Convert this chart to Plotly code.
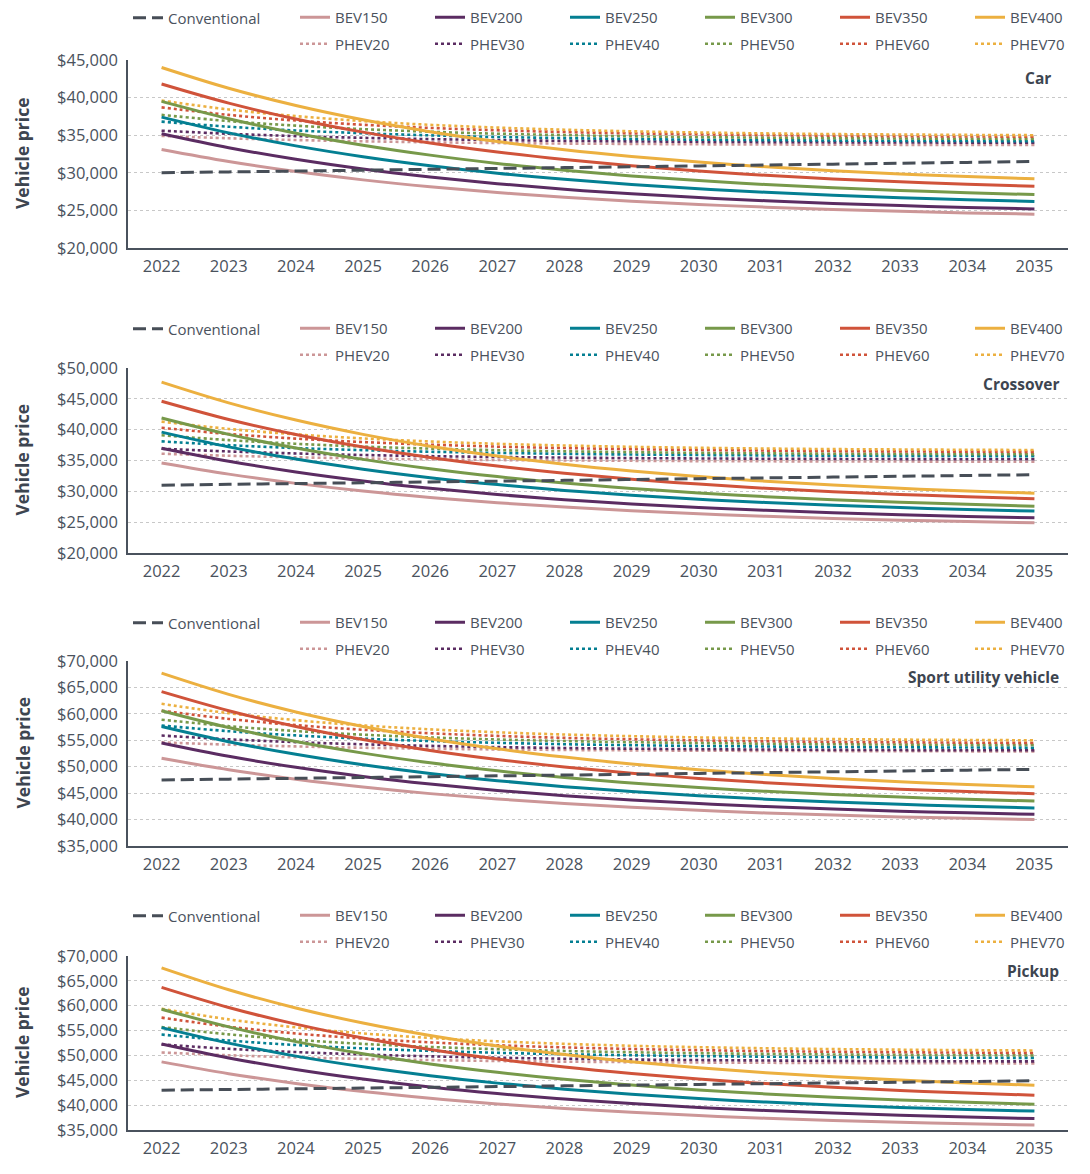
import plotly.graph_objects as go
from plotly.subplots import make_subplots

years = [2022, 2023, 2024, 2025, 2026, 2027, 2028, 2029, 2030, 2031, 2032, 2033, 2034, 2035]

# ---- Car ----
car_conv = [30000, 30120, 30230, 30350, 30460, 30580, 30690, 30810, 30920, 31040, 31150, 31270, 31380, 31500]
car_bev150 = [33100, 31500, 30160, 29060, 28140, 27380, 26750, 26220, 25790, 25430, 25130, 24880, 24670, 24500]
car_bev200 = [35200, 33340, 31790, 30500, 29440, 28550, 27810, 27200, 26700, 26280, 25930, 25640, 25400, 25200]
car_bev250 = [37400, 35310, 33580, 32140, 30940, 29950, 29130, 28440, 27880, 27410, 27020, 26690, 26420, 26200]
car_bev300 = [39500, 37190, 35270, 33670, 32350, 31250, 30340, 29590, 28960, 28440, 28010, 27650, 27350, 27100]
car_bev350 = [41800, 39260, 37160, 35410, 33960, 32760, 31760, 30930, 30240, 29670, 29190, 28800, 28470, 28200]
car_bev400 = [44000, 41240, 38950, 37050, 35470, 34160, 33070, 32170, 31420, 30800, 30280, 29850, 29500, 29200]
car_phev20 = [34900, 34590, 34360, 34190, 34060, 33960, 33890, 33840, 33790, 33760, 33740, 33720, 33710, 33700]
car_phev30 = [35600, 35190, 34880, 34650, 34480, 34350, 34250, 34180, 34120, 34080, 34050, 34030, 34010, 34000]
car_phev40 = [36800, 36130, 35630, 35260, 34980, 34770, 34610, 34490, 34400, 34340, 34290, 34250, 34220, 34200]
car_phev50 = [37700, 36880, 36270, 35810, 35460, 35200, 35010, 34860, 34750, 34670, 34610, 34560, 34530, 34500]
car_phev60 = [38700, 37700, 36950, 36390, 35970, 35650, 35420, 35240, 35110, 35010, 34930, 34870, 34830, 34800]
car_phev70 = [39600, 38420, 37540, 36880, 36380, 36010, 35730, 35520, 35360, 35240, 35150, 35090, 35040, 35000]

# ---- Crossover ----
cro_conv = [31000, 31130, 31260, 31390, 31520, 31650, 31780, 31920, 32050, 32180, 32310, 32440, 32570, 32700]
cro_bev150 = [34600, 32790, 31290, 30040, 29010, 28150, 27440, 26840, 26350, 25950, 25610, 25330, 25090, 24900]
cro_bev200 = [37000, 34890, 33140, 31690, 30490, 29480, 28650, 27960, 27390, 26920, 26520, 26200, 25930, 25700]
cro_bev250 = [39600, 37210, 35230, 33590, 32220, 31090, 30150, 29370, 28720, 28180, 27730, 27360, 27060, 26800]
cro_bev300 = [41900, 39230, 37020, 35180, 33660, 32390, 31340, 30470, 29740, 29140, 28640, 28230, 27890, 27600]
cro_bev350 = [44600, 41650, 39210, 37180, 35490, 34090, 32930, 31970, 31170, 30500, 29950, 29500, 29120, 28800]
cro_bev400 = [47700, 44340, 41560, 39240, 37320, 35730, 34410, 33310, 32400, 31640, 31010, 30490, 30060, 29700]
cro_phev20 = [36100, 35770, 35520, 35330, 35190, 35080, 35010, 34950, 34900, 34870, 34840, 34830, 34810, 34800]
cro_phev30 = [36900, 36470, 36140, 35890, 35710, 35570, 35470, 35390, 35330, 35290, 35260, 35230, 35210, 35200]
cro_phev40 = [38100, 37490, 37020, 36680, 36420, 36230, 36080, 35970, 35890, 35830, 35780, 35750, 35720, 35700]
cro_phev50 = [39100, 38310, 37710, 37260, 36930, 36680, 36490, 36350, 36240, 36160, 36100, 36060, 36030, 36000]
cro_phev60 = [40300, 39300, 38550, 37990, 37570, 37250, 37020, 36840, 36710, 36610, 36530, 36470, 36430, 36400]
cro_phev70 = [41300, 40120, 39240, 38580, 38080, 37710, 37430, 37220, 37060, 36940, 36850, 36790, 36740, 36700]

# ---- Sport utility vehicle ----
suv_conv = [47500, 47650, 47810, 47960, 48120, 48270, 48420, 48580, 48730, 48880, 49040, 49190, 49350, 49500]
suv_bev150 = [51600, 49440, 47640, 46150, 44910, 43890, 43030, 42330, 41740, 41250, 40850, 40510, 40230, 40000]
suv_bev200 = [54500, 51980, 49890, 48160, 46720, 45520, 44530, 43710, 43020, 42460, 41990, 41590, 41270, 41000]
suv_bev250 = [57600, 54730, 52340, 50360, 48720, 47360, 46230, 45290, 44510, 43860, 43320, 42880, 42510, 42200]
suv_bev300 = [60600, 57410, 54760, 52570, 50740, 49230, 47970, 46930, 46060, 45340, 44750, 44250, 43840, 43500]
suv_bev350 = [64200, 60600, 57610, 55130, 53070, 51360, 49950, 48770, 47790, 46980, 46310, 45750, 45290, 44900]
suv_bev400 = [67700, 63690, 60360, 57600, 55310, 53400, 51820, 50510, 49420, 48520, 47770, 47150, 46630, 46200]
suv_phev20 = [54600, 54170, 53840, 53590, 53410, 53270, 53170, 53090, 53030, 52990, 52960, 52930, 52910, 52900]
suv_phev30 = [55900, 55180, 54650, 54240, 53940, 53710, 53540, 53410, 53320, 53250, 53190, 53150, 53120, 53100]
suv_phev40 = [57800, 56720, 55920, 55310, 54860, 54520, 54260, 54070, 53930, 53820, 53740, 53680, 53630, 53600]
suv_phev50 = [58900, 57670, 56750, 56060, 55540, 55150, 54860, 54640, 54480, 54350, 54260, 54190, 54140, 54100]
suv_phev60 = [60600, 59040, 57870, 56990, 56330, 55830, 55460, 55190, 54980, 54820, 54700, 54620, 54550, 54500]
suv_phev70 = [61900, 60130, 58810, 57810, 57070, 56510, 56090, 55780, 55540, 55360, 55230, 55130, 55060, 55000]

# ---- Pickup ----
pck_conv = [43000, 43150, 43290, 43440, 43580, 43730, 43880, 44020, 44170, 44320, 44460, 44610, 44750, 44900]
pck_bev150 = [48700, 46330, 44360, 42730, 41380, 40250, 39320, 38550, 37900, 37370, 36930, 36560, 36250, 36000]
pck_bev200 = [52300, 49500, 47180, 45250, 43650, 42320, 41220, 40310, 39550, 38920, 38400, 37960, 37600, 37300]
pck_bev250 = [55600, 52470, 49860, 47710, 45920, 44430, 43190, 42170, 41320, 40610, 40030, 39540, 39140, 38800]
pck_bev300 = [59300, 55740, 52780, 50330, 48290, 46600, 45190, 44030, 43060, 42260, 41590, 41040, 40580, 40200]
pck_bev350 = [63700, 59650, 56290, 53500, 51190, 49270, 47670, 46350, 45250, 44340, 43580, 42960, 42430, 42000]
pck_bev400 = [67600, 63200, 59540, 56510, 54000, 51900, 50170, 48730, 47540, 46540, 45720, 45040, 44470, 44000]
pck_phev20 = [50600, 50040, 49610, 49300, 49060, 48880, 48750, 48650, 48570, 48520, 48470, 48440, 48420, 48400]
pck_phev30 = [52200, 51330, 50680, 50190, 49820, 49540, 49340, 49180, 49070, 48980, 48910, 48870, 48830, 48800]
pck_phev40 = [54200, 53000, 52090, 51420, 50910, 50530, 50240, 50030, 49870, 49750, 49660, 49590, 49540, 49500]
pck_phev50 = [55700, 54240, 53150, 52320, 51710, 51250, 50900, 50640, 50450, 50300, 50190, 50110, 50050, 50000]
pck_phev60 = [57600, 55780, 54420, 53400, 52630, 52050, 51620, 51300, 51060, 50870, 50740, 50640, 50560, 50500]
pck_phev70 = [59400, 57250, 55640, 54430, 53520, 52840, 52330, 51940, 51660, 51440, 51280, 51160, 51070, 51000]

bev_names = ["BEV150", "BEV200", "BEV250", "BEV300", "BEV350", "BEV400"]
phev_names = ["PHEV20", "PHEV30", "PHEV40", "PHEV50", "PHEV60", "PHEV70"]
colors = ["#cc9697", "#5b2c62", "#047f92", "#77994a", "#d0533a", "#ecb040"]
conv_color = "#474e57"

panels = [
    ("Car", car_conv,
     [car_bev150, car_bev200, car_bev250, car_bev300, car_bev350, car_bev400],
     [car_phev20, car_phev30, car_phev40, car_phev50, car_phev60, car_phev70],
     [20000, 45000]),
    ("Crossover", cro_conv,
     [cro_bev150, cro_bev200, cro_bev250, cro_bev300, cro_bev350, cro_bev400],
     [cro_phev20, cro_phev30, cro_phev40, cro_phev50, cro_phev60, cro_phev70],
     [20000, 50000]),
    ("Sport utility vehicle", suv_conv,
     [suv_bev150, suv_bev200, suv_bev250, suv_bev300, suv_bev350, suv_bev400],
     [suv_phev20, suv_phev30, suv_phev40, suv_phev50, suv_phev60, suv_phev70],
     [35000, 70000]),
    ("Pickup", pck_conv,
     [pck_bev150, pck_bev200, pck_bev250, pck_bev300, pck_bev350, pck_bev400],
     [pck_phev20, pck_phev30, pck_phev40, pck_phev50, pck_phev60, pck_phev70],
     [35000, 70000]),
]

W, H = 1090, 1174
ML, MR = 128, 22
PW = W - ML - MR
# pixel rows: plot top, plot bottom, legend row1, legend row2, title y, title right edge
rows_px = [(60, 248, 18, 43, 78, 1053),
           (368, 553, 329, 354, 384, 1062),
           (661, 846, 623, 648, 677, 1061),
           (956, 1130, 916, 941, 971, 1061)]
col_px = [295, 430, 565, 700, 835, 970]   # left edge of each legend column


def px_x(p):
    return (p - ML) / PW


def px_y(p):
    return 1 - p / H


fig = make_subplots(rows=4, cols=1)
font = "Open Sans"
txt = "#4a525d"
legend_font = dict(size=15, color=txt, family=font)

for i, (title, conv, bevs, phevs, yr) in enumerate(panels):
    r = i + 1
    top, bot, l1, l2, ty, tx = rows_px[i]
    col_legends = ["legend%d" % (2 + i * 7 + j) for j in range(6)]
    conv_legend = "legend%d" % (2 + i * 7 + 6)

    # dotted PHEV lines first so the solid BEV lines sit on top
    for j, (name, vals, col) in enumerate(zip(phev_names, phevs, colors)):
        fig.add_trace(go.Scatter(x=years, y=vals, name=name, mode="lines",
                                 legend=col_legends[j], legendgroup="%d%s" % (i, name),
                                 legendrank=2,
                                 line=dict(color=col, width=2.6, dash="dot", shape="spline")),
                      row=r, col=1)
    for j, (name, vals, col) in enumerate(zip(bev_names, bevs, colors)):
        fig.add_trace(go.Scatter(x=years, y=vals, name=name, mode="lines",
                                 legend=col_legends[j], legendgroup="%d%s" % (i, name),
                                 legendrank=1,
                                 line=dict(color=col, width=3, shape="spline")),
                      row=r, col=1)
    fig.add_trace(go.Scatter(x=years, y=conv, name="Conventional", mode="lines",
                             legend=conv_legend,
                             line=dict(color=conv_color, width=3, dash="13px,6px", shape="spline")),
                  row=r, col=1)

    yname = "yaxis" if i == 0 else "yaxis%d" % r
    xname = "xaxis" if i == 0 else "xaxis%d" % r
    fig.layout[yname].update(domain=[px_y(bot), px_y(top)], range=yr, dtick=5000, tick0=yr[0],
                             tickprefix="$", tickformat=",", showgrid=True,
                             gridcolor="#c8c8c8", griddash="dot", gridwidth=1,
                             showline=True, linecolor="#4a525d", linewidth=1.5,
                             zeroline=False, ticks="", ticklabelstandoff=5, automargin=False,
                             tickfont=dict(size=16.5, color=txt, family=font))
    fig.layout[xname].update(range=[2021.5, 2035.5], tickvals=years, showgrid=False,
                             showline=True, linecolor="#4a525d", linewidth=1.5,
                             zeroline=False, ticks="", ticklabelstandoff=2, automargin=False,
                             tickfont=dict(size=16.5, color=txt, family=font))

    for j, lg in enumerate(col_legends):
        fig.layout[lg] = dict(orientation="v", x=px_x(col_px[j]), y=px_y((l1 + l2) / 2),
                              xanchor="left", yanchor="middle", traceorder="grouped",
                              tracegroupgap=4, bgcolor="rgba(0,0,0,0)", borderwidth=0,
                              itemclick=False, itemdoubleclick=False, font=legend_font)
    fig.layout[conv_legend] = dict(orientation="v", x=px_x(128), y=px_y(l1),
                                   xanchor="left", yanchor="middle",
                                   bgcolor="rgba(0,0,0,0)", borderwidth=0,
                                   itemclick=False, itemdoubleclick=False, font=legend_font)

    fig.add_annotation(text="<b>%s</b>" % title, xref="paper", yref="paper",
                       x=px_x(tx), y=px_y(ty), xanchor="right", yanchor="middle",
                       showarrow=False, font=dict(size=15.5, color="#3d4550", family=font))
    fig.add_annotation(text="<b>Vehicle price</b>", xref="paper", yref="paper",
                       x=px_x(22), y=px_y((top + bot) / 2), textangle=-90,
                       xanchor="center", yanchor="middle", showarrow=False,
                       font=dict(size=17.5, color="#3d4550", family=font))

fig.update_layout(width=W, height=H, margin=dict(l=ML, r=MR, t=0, b=0, autoexpand=False),
                  plot_bgcolor="white", paper_bgcolor="white",
                  font=dict(family=font, color=txt))

fig.write_html("out.html", config={"displayModeBar": False},
               post_script="document.body.style.margin='0';document.body.style.overflow='hidden';")
